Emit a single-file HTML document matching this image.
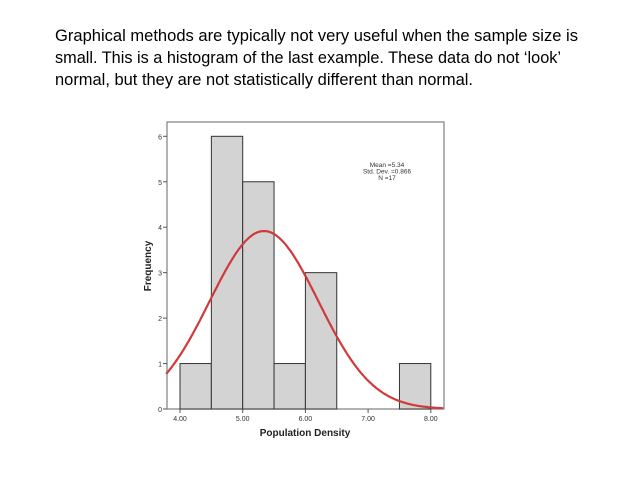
<!DOCTYPE html>
<html><head><meta charset="utf-8"><style>
body{margin:0;background:#fff;width:638px;height:478px;overflow:hidden}
svg{display:block;font-family:"Liberation Sans",sans-serif}
</style></head><body>
<svg width="638" height="478">
<g font-size="16.5" fill="#000">
<text x="55" y="41" textLength="523" lengthAdjust="spacingAndGlyphs">Graphical methods are typically not very useful when the sample size is</text>
<text x="55" y="63" textLength="506" lengthAdjust="spacingAndGlyphs">small. This is a histogram of the last example. These data do not ‘look’</text>
<text x="55" y="85" textLength="418" lengthAdjust="spacingAndGlyphs">normal, but they are not statistically different than normal.</text>
</g>
<g id="chart"></g>
</svg>
<script>
const binStarts=[4.0,4.5,5.0,5.5,6.0,6.5,7.0,7.5];
const counts=[1,6,5,1,3,0,0,1];
const xTicks=[4,5,6,7,8];
const xTickLabels=["4.00","5.00","6.00","7.00","8.00"];
const yTicks=[0,1,2,3,4,5,6];
const stats=["Mean =5.34","Std. Dev. =0.866","N =17"];
const mean=5.34, sd=0.866, n=17, binW=0.5;

const L=167,R=444,T=122,B=409;
const sx=v=>180+(v-4)*62.7;
const sy=v=>B-v*45.45;
const NS="http://www.w3.org/2000/svg";
const g=document.getElementById('chart');
function mk(t,a,p){const e=document.createElementNS(NS,t);for(const k in a)e.setAttribute(k,a[k]);(p||g).appendChild(e);return e;}

const frame=mk('rect',{x:L,y:T,width:R-L,height:B-T,fill:'#fff',stroke:'#888','stroke-width':1.3});



counts.forEach((c,i)=>{if(!c)return;
 const x0=sx(binStarts[i]),x1=sx(binStarts[i]+binW);
 const r=mk('rect',{x:x0,y:sy(c),width:x1-x0,height:sy(0)-sy(c),fill:'#d3d3d3',stroke:'#333','stroke-width':1});
 
 
});

let d='';
for(let v=3.78;v<=8.21;v+=0.02){
 const y=n*binW*Math.exp(-0.5*((v-mean)/sd)**2)/(sd*Math.sqrt(2*Math.PI));
 d+=(d?'L':'M')+sx(v).toFixed(1)+' '+sy(y).toFixed(1);
}
const cv=mk('path',{d:d,fill:'none',stroke:'#d03a3a','stroke-width':2.2});



yTicks.forEach(v=>{
 const y=sy(v);
 const tk=mk('line',{x1:L-4,x2:L,y1:y,y2:y,stroke:'#555'});
 
 
 const t=mk('text',{x:L-5,y:y+3,'font-size':7,'text-anchor':'end',fill:'#333'});
 t.textContent=v;
 
 
});
xTicks.forEach((v,i)=>{
 const x=sx(v);
 const tk=mk('line',{x1:x,x2:x,y1:B,y2:B+4,stroke:'#555'});
 
 
 const t=mk('text',{x:x,y:B+12,'font-size':7,'text-anchor':'middle',fill:'#333'});
 t.textContent=xTickLabels[i];
 
 
});
const xt=mk('text',{x:305,y:436,'font-size':10,'font-weight':'bold','text-anchor':'middle',fill:'#222'});
xt.textContent='Population Density';


const yt=mk('text',{x:0,y:0,'font-size':10,'font-weight':'bold','text-anchor':'middle',fill:'#222',transform:'translate(151,266) rotate(-90)'});
yt.textContent='Frequency';


stats.forEach((s,i)=>{
 const t=mk('text',{x:387,y:167+i*6.5,'font-size':6.5,'text-anchor':'middle',fill:'#333'});
 t.textContent=s;
 
 
});
</script>
</body></html>
